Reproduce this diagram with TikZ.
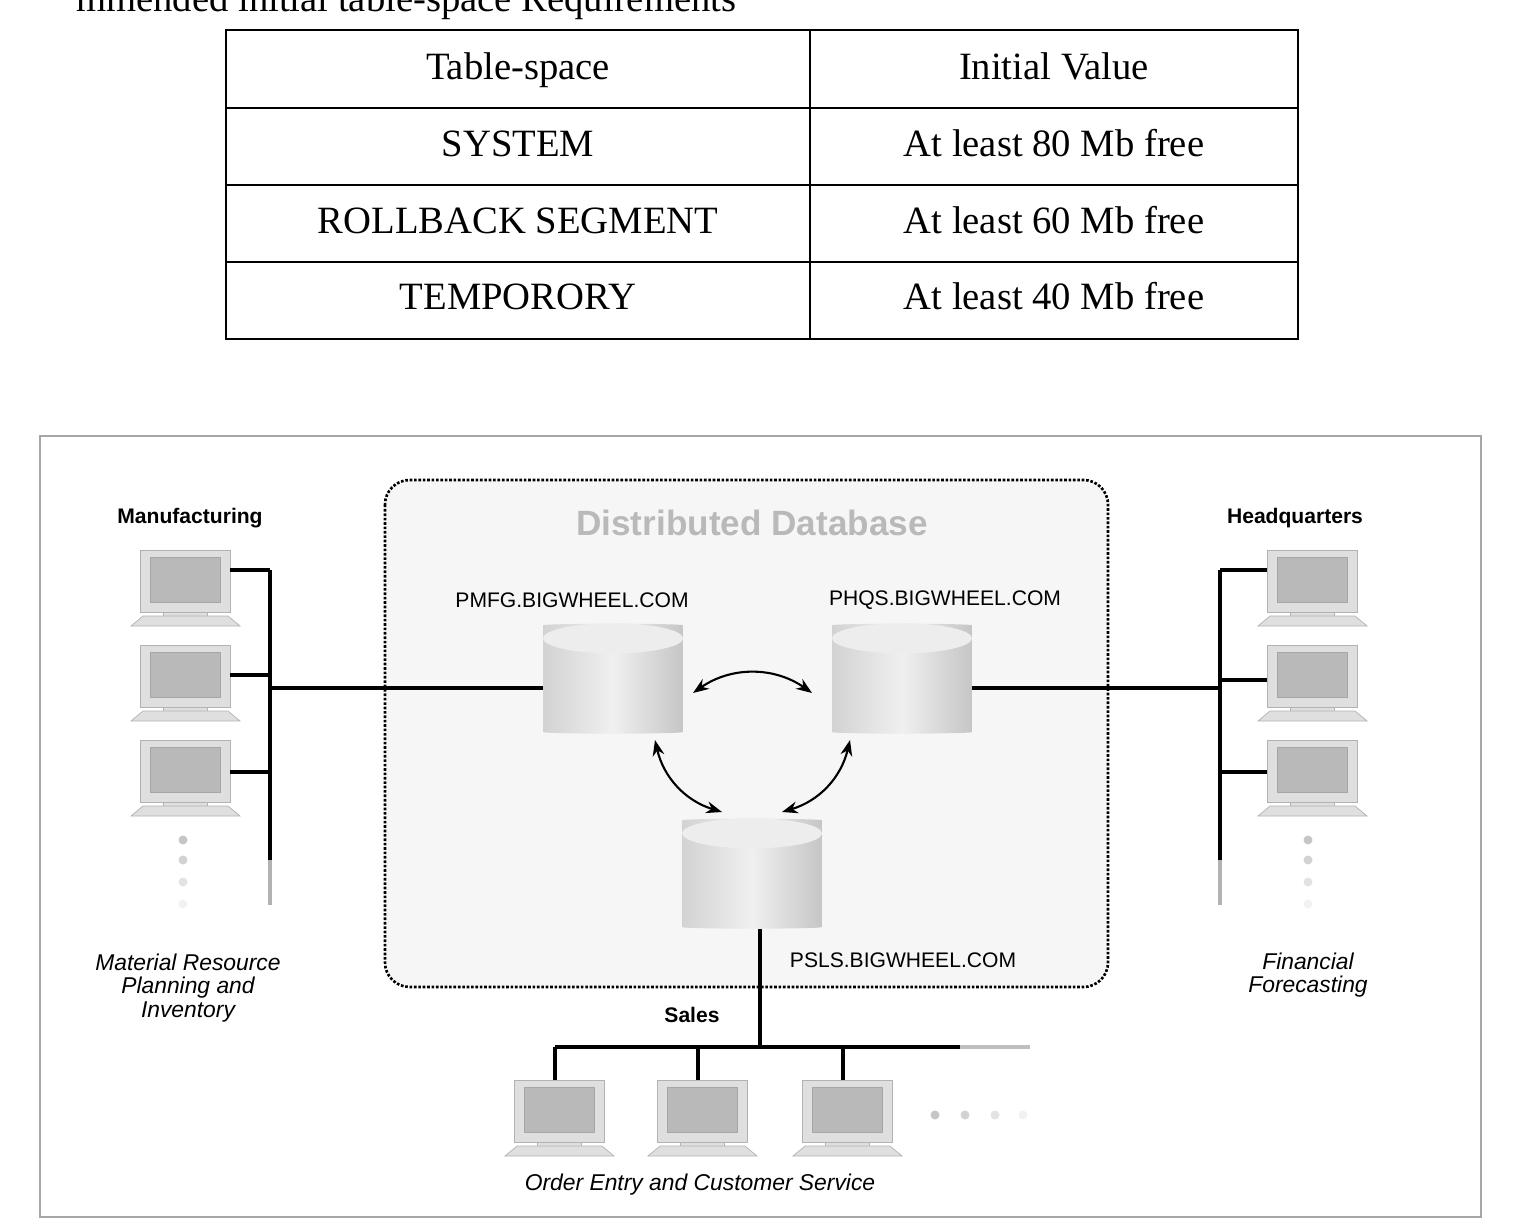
\documentclass[tikz,border=0pt]{standalone}
\usepackage{fontspec}
\setmainfont{Liberation Serif}
\newfontfamily\arial{Liberation Sans}
\usetikzlibrary{shapes.geometric,arrows.meta}
\begin{document}
\begin{tikzpicture}[x=0.02cm,y=-0.02cm,
  cell/.style={font=\fontsize{22}{26}\selectfont,anchor=base},
  lbl/.style={font=\arial\fontsize{12}{14}\selectfont},
  site/.style={font=\arial\bfseries\fontsize{12}{14}\selectfont},
  note/.style={font=\arial\itshape\fontsize{13}{13.5}\selectfont,align=center},
  db/.style={cylinder,shape border rotate=90,aspect=0.28,draw=none,
    minimum width=2.8cm,minimum height=2.2cm,
    left color=gray!35,right color=gray!45,middle color=gray!12},
  bus/.style={line width=2.2pt},
  link/.style={line width=1.2pt,{Stealth[length=9pt]}-{Stealth[length=9pt]}},
  pc/.pic={
    \fill[gray!25,draw=gray!60] (-43,0) rectangle (47,62);
    \fill[gray!55,draw=gray!70] (-33,7) rectangle (37,52);
    \fill[gray!25,draw=gray!60] (-20,62) rectangle (24,66);
    \fill[gray!25,draw=gray!60] (-52,76) -- (-40,66) -- (45,66) -- (57,76) -- cycle;
  }]
\useasboundingbox (0,0) rectangle (1538,1219);

% table
\node[cell,anchor=base west] (cap) at (70,12) {mmended initial table-space Requirements};
\draw[line width=1pt] (226,30) rectangle (1298,339);
\draw[line width=1pt] (810,30) -- (810,339);
\foreach \y in {108,185,262} \draw[line width=1pt] (226,\y) -- (1298,\y);
\node[cell] (h1) at (518,80) {Table-space};
\node[cell] (h2) at (1054,80) {Initial Value};
\node[cell] (r1) at (518,157) {SYSTEM};
\node[cell] (v1) at (1054,157) {At least 80 Mb free};
\node[cell] (r2) at (518,234) {ROLLBACK SEGMENT};
\node[cell] (v2) at (1054,234) {At least 60 Mb free};
\node[cell] (r3) at (518,310) {TEMPORORY};
\node[cell] (v3) at (1054,310) {At least 40 Mb free};

% frame and database area
\draw[gray!70,line width=1pt] (40,436) rectangle (1481,1217);
\draw[densely dotted,line width=1.5pt,fill=gray!7,rounded corners=14pt] (385,480) rectangle (1108,987);
\node[font=\arial\bfseries\fontsize{20}{22}\selectfont,text=gray!55] (title) at (752,523) {Distributed Database};

\node[db] (pmfg) at (613,680) {};
\node[db] (phqs) at (902,680) {};
\node[db] (psls) at (752,875) {};
\foreach \n in {pmfg,phqs,psls}
  \fill[gray!14] ([yshift=-0.3cm]\n.north) ellipse (1.4cm and 0.3cm);
\node[lbl] at (572,600) {PMFG.BIGWHEEL.COM};
\node[lbl] at (945,600) {PHQS.BIGWHEEL.COM};
\node[lbl] at (903,960) {PSLS.BIGWHEEL.COM};

\draw[link] (693,693) to[bend left=35] (812,693);
\draw[link] (655,740) to[bend right=30] (722,812);
\draw[link] (850,740) to[bend left=30] (782,812);

% manufacturing
\node[site] (mfg) at (190,518) {Manufacturing};
\foreach \y in {550,645,740} \pic at (183,\y) {pc};
\coordinate (lbusT) at (270,570);
\coordinate (lbusB) at (270,860);
\draw[bus] (lbusT) -- (lbusB);
\draw[bus,gray!60] (lbusB) -- (270,905);
\foreach \y in {570,675,772} \draw[bus] (230,\y) -- (270,\y);
\coordinate (lhub) at (270,688);
\draw[bus] (lhub) -- (pmfg.west |- lhub);
\foreach \y/\c in {840/45,860/35,882/22,904/10} \fill[gray!\c] (183,\y) circle (4.5);
\node[note] at (188,988) {Material Resource\\Planning and\\Inventory};

% headquarters
\node[site] (hq) at (1295,518) {Headquarters};
\foreach \y in {550,645,740} \pic at (1310,\y) {pc};
\coordinate (rbusT) at (1220,570);
\coordinate (rbusB) at (1220,860);
\draw[bus] (rbusT) -- (rbusB);
\draw[bus,gray!60] (rbusB) -- (1220,905);
\foreach \y in {570,680,772} \draw[bus] (1220,\y) -- (1267,\y);
\coordinate (rhub) at (1220,688);
\draw[bus] (phqs.east |- rhub) -- (rhub);
\foreach \y/\c in {840/45,860/35,882/22,904/10} \fill[gray!\c] (1308,\y) circle (4.5);
\node[note] at (1308,975) {Financial\\Forecasting};

% sales
\node[site] (sales) at (692,1015) {Sales};
\coordinate (shub) at (760,1047);
\draw[bus] (psls.south -| shub) -- (shub);
\draw[bus] (555,1047) -- (960,1047);
\draw[bus,gray!50] (960,1047) -- (1030,1047);
\foreach \x in {555,698,843} {
  \draw[bus] (\x,1047) -- (\x,1080);
  \pic at (\x+2,1080) {pc};
}
\foreach \x/\c in {935/45,965/35,995/22,1023/10} \fill[gray!\c] (\x,1115) circle (4.5);
\node[note] at (700,1185) {Order Entry and Customer Service};
\end{tikzpicture}
\end{document}
